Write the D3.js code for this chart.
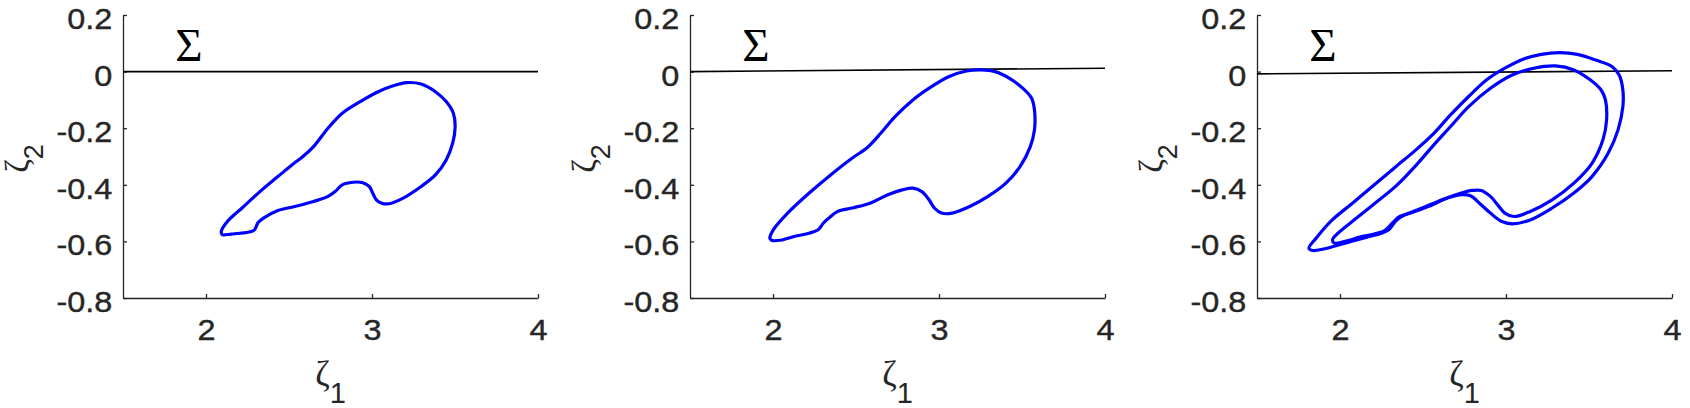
<!DOCTYPE html>
<html>
<head>
<meta charset="utf-8">
<script src="https://cdn.jsdelivr.net/npm/d3@7"></script>
<style>
  body { margin: 0; background: #fff; }
  svg { display: block; }
  .tick text { font-family: "Liberation Sans", Arial, sans-serif; fill: #262626; }
</style>
</head>
<body>
<svg id="chart" width="1690" height="408"></svg>
<script>
// axis ticks (same for all three panels)
const xTicks = [2, 3, 4];
const yTicks = [0.2, 0, -0.2, -0.4, -0.6, -0.8];
const yTickLabels = ["0.2", "0", "-0.2", "-0.4", "-0.6", "-0.8"];

// section Sigma: [zeta1, zeta2] at the two ends of the axis
const sigma1 = [[1.5, 0.0], [4, 0.0]];
const sigma2 = [[1.5, 0.0], [4, 0.012]];
const sigma3 = [[1.5, -0.008], [4, 0.003]];

// orbit in panel 1 (closed loop)
const orbit1 = [
  [2.092, -0.565], [2.130, -0.529], [2.217, -0.482], [2.325, -0.424], [2.433, -0.371],
  [2.519, -0.329], [2.584, -0.300], [2.648, -0.265], [2.735, -0.200], [2.821, -0.147],
  [2.929, -0.106], [3.037, -0.071], [3.123, -0.051], [3.209, -0.039], [3.296, -0.044],
  [3.382, -0.071], [3.447, -0.106], [3.490, -0.147], [3.501, -0.194], [3.486, -0.253],
  [3.447, -0.312], [3.382, -0.365], [3.296, -0.406], [3.188, -0.447], [3.101, -0.467],
  [3.058, -0.465], [3.026, -0.453], [3.004, -0.429], [2.983, -0.406], [2.940, -0.392],
  [2.886, -0.391], [2.821, -0.400], [2.778, -0.424], [2.735, -0.441], [2.648, -0.459],
  [2.540, -0.476], [2.433, -0.491], [2.346, -0.518], [2.314, -0.533], [2.292, -0.559],
  [2.260, -0.567], [2.152, -0.574], [2.098, -0.576]
];

// orbit in panel 2 (grazing Sigma)
const orbit2 = [
  [1.981, -0.588], [2.002, -0.559], [2.088, -0.500], [2.218, -0.429], [2.347, -0.365],
  [2.476, -0.306], [2.563, -0.271], [2.649, -0.218], [2.735, -0.159], [2.843, -0.100],
  [2.950, -0.055], [3.058, -0.018], [3.166, 0.002], [3.252, 0.006], [3.338, 0.000],
  [3.425, -0.024], [3.511, -0.062], [3.558, -0.094], [3.575, -0.135], [3.575, -0.206],
  [3.550, -0.265], [3.489, -0.335], [3.403, -0.394], [3.295, -0.441], [3.188, -0.476],
  [3.080, -0.500], [3.015, -0.500], [2.972, -0.482], [2.940, -0.453], [2.897, -0.424],
  [2.843, -0.412], [2.778, -0.418], [2.692, -0.435], [2.584, -0.465], [2.476, -0.482],
  [2.390, -0.494], [2.336, -0.518], [2.304, -0.535], [2.272, -0.559], [2.218, -0.571],
  [2.132, -0.582], [2.045, -0.596], [1.991, -0.596]
];

// panel 3: the orbit goes round twice, outer and inner turn
const orbit3Outer = [
  [1.813, -0.624], [1.857, -0.588], [1.944, -0.529], [2.075, -0.465], [2.207, -0.400],
  [2.338, -0.335], [2.447, -0.282], [2.556, -0.224], [2.666, -0.153], [2.775, -0.088],
  [2.884, -0.029], [2.993, 0.012], [3.103, 0.044], [3.212, 0.061], [3.321, 0.067],
  [3.431, 0.061], [3.540, 0.041], [3.638, 0.018], [3.682, -0.012], [3.704, -0.065],
  [3.704, -0.124], [3.675, -0.206], [3.616, -0.288], [3.518, -0.371], [3.409, -0.429],
  [3.278, -0.482], [3.146, -0.524], [3.037, -0.538], [2.972, -0.529], [2.906, -0.500],
  [2.840, -0.465], [2.786, -0.439], [2.731, -0.435], [2.644, -0.447], [2.556, -0.467],
  [2.469, -0.488], [2.381, -0.509], [2.338, -0.526], [2.294, -0.559], [2.250, -0.571],
  [2.163, -0.585], [2.032, -0.606], [1.901, -0.627], [1.835, -0.632]
];
const orbit3Inner = [
  [1.955, -0.594], [1.988, -0.571], [2.075, -0.529], [2.207, -0.467], [2.338, -0.404],
  [2.469, -0.324], [2.556, -0.265], [2.666, -0.194], [2.775, -0.124], [2.906, -0.059],
  [3.037, -0.012], [3.168, 0.012], [3.299, 0.020], [3.409, 0.006], [3.507, -0.029],
  [3.573, -0.065], [3.599, -0.100], [3.606, -0.171], [3.584, -0.241], [3.518, -0.324],
  [3.409, -0.394], [3.278, -0.453], [3.146, -0.494], [3.048, -0.512], [2.993, -0.500],
  [2.950, -0.471], [2.906, -0.441], [2.851, -0.420], [2.797, -0.420], [2.731, -0.429],
  [2.644, -0.447], [2.535, -0.476], [2.425, -0.500], [2.360, -0.512], [2.316, -0.535],
  [2.272, -0.561], [2.207, -0.574], [2.119, -0.585], [2.032, -0.600], [1.966, -0.606]
];

const panels = [
  { left: 123, sigma: sigma1, loops: [orbit1] },
  { left: 690, sigma: sigma2, loops: [orbit2] },
  { left: 1257, sigma: sigma3, loops: [orbit3Outer, orbit3Inner] }
];

const W = 415, H = 283, TOP = 15;
const svg = d3.select("#chart");

panels.forEach(p => {
  const x = d3.scaleLinear().domain([1.5, 4]).range([0, W]);
  const y = d3.scaleLinear().domain([-0.8, 0.2]).range([H, 0]);
  const g = svg.append("g").attr("transform", `translate(${p.left},${TOP})`);

  // axes, ticks point inward like matlab
  const gx = g.append("g")
    .attr("transform", `translate(0,${H})`)
    .call(d3.axisBottom(x).tickValues(xTicks).tickFormat(d3.format("d"))
      .tickSizeInner(-4).tickSizeOuter(0).tickPadding(21));
  const gy = g.append("g")
    .call(d3.axisLeft(y).tickValues(yTicks).tickFormat((d, i) => yTickLabels[i])
      .tickSizeInner(-4).tickSizeOuter(0).tickPadding(10));
  [gx, gy].forEach(a => {
    a.selectAll("path, line").attr("stroke", "#262626").attr("stroke-width", 1.3);
    // the tick labels in the figure are a bit wider than plain Arial
    a.selectAll("text").style("font-size", "30px").attr("fill", "#262626")
      .attr("stroke", "#262626").attr("stroke-width", 0.4)
      .attr("transform", "scale(1.08,1)");
  });
  gy.selectAll("text").attr("dy", "0.45em");

  // Sigma section line
  const line = d3.line().x(d => x(d[0])).y(d => y(d[1]));
  g.append("path").attr("d", line(p.sigma))
    .attr("fill", "none").attr("stroke", "#000").attr("stroke-width", 1.6);

  g.append("text")
    .attr("x", x(1.815)).attr("y", y(0.038))
    .attr("font-family", "Liberation Serif, Times New Roman, serif")
    .attr("font-size", 47)
    .text("Σ");

  // orbit
  const loop = d3.line().x(d => x(d[0])).y(d => y(d[1])).curve(d3.curveCatmullRomClosed.alpha(0.5));
  p.loops.forEach(pts => {
    g.append("path").attr("d", loop(pts))
      .attr("fill", "none").attr("stroke", "#0000ff").attr("stroke-width", 3.2)
      .attr("stroke-linejoin", "round");
  });

  // axis labels
  const xl = g.append("text")
    .attr("x", W / 2).attr("y", 371)
    .attr("text-anchor", "middle").attr("fill", "#262626");
  xl.append("tspan").attr("font-family", "Liberation Serif, serif").attr("font-size", 35).text("ζ");
  xl.append("tspan").attr("font-family", "Liberation Sans, sans-serif").attr("font-size", 29).attr("dy", 17).text("1");

  const yl = g.append("text")
    .attr("transform", `translate(-95,${H / 2 + 2}) rotate(-90)`)
    .attr("text-anchor", "middle").attr("fill", "#262626");
  yl.append("tspan").attr("font-family", "Liberation Serif, serif").attr("font-size", 33).text("ζ");
  yl.append("tspan").attr("font-family", "Liberation Sans, sans-serif").attr("font-size", 27).attr("dy", 15).text("2");
});
</script>
</body>
</html>
